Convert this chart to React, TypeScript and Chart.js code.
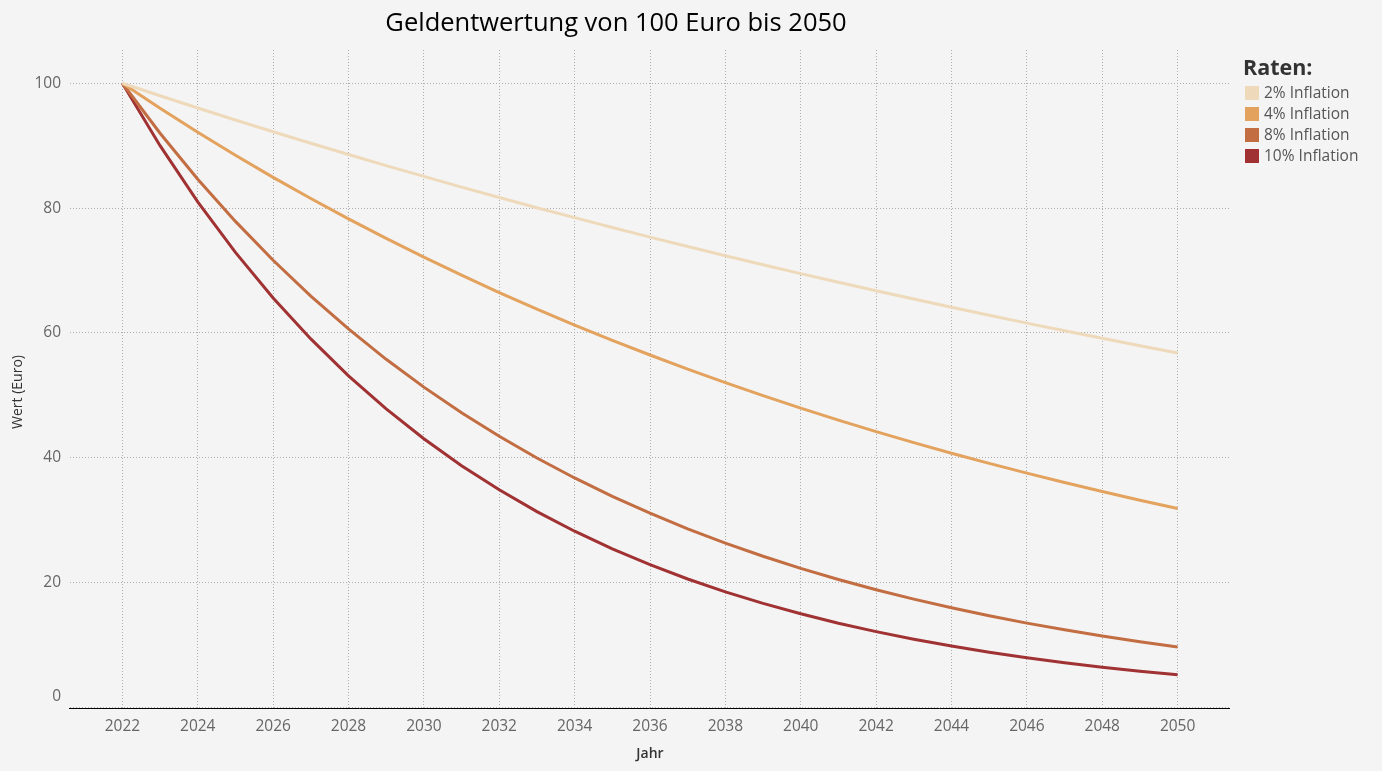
import React, { useEffect, useRef } from "react";
import { Chart, registerables } from "chart.js";

Chart.register(...registerables);

// Years on the x axis and the labelled ticks
const years = [
  2022, 2023, 2024, 2025, 2026, 2027, 2028, 2029, 2030, 2031,
  2032, 2033, 2034, 2035, 2036, 2037, 2038, 2039, 2040, 2041,
  2042, 2043, 2044, 2045, 2046, 2047, 2048, 2049, 2050,
];
const xTickYears = [2022, 2024, 2026, 2028, 2030, 2032, 2034, 2036, 2038, 2040, 2042, 2044, 2046, 2048, 2050];
const yTickValues = [0, 20, 40, 60, 80, 100];

// Remaining value of 100 Euro per year
const inflation2 = [
  100, 98, 96.04, 94.12, 92.24, 90.39, 88.58, 86.81, 85.08, 83.37,
  81.71, 80.07, 78.47, 76.9, 75.36, 73.86, 72.38, 70.93, 69.51, 68.12,
  66.76, 65.43, 64.12, 62.83, 61.58, 60.35, 59.14, 57.96, 56.8,
];
const inflation4 = [
  100, 96, 92.16, 88.47, 84.93, 81.54, 78.28, 75.14, 72.14, 69.25,
  66.48, 63.82, 61.27, 58.82, 56.47, 54.21, 52.04, 49.96, 47.96, 46.04,
  44.2, 42.43, 40.73, 39.1, 37.54, 36.04, 34.6, 33.21, 31.88,
];
const inflation8 = [
  100, 92, 84.64, 77.87, 71.64, 65.91, 60.64, 55.78, 51.32, 47.22,
  43.44, 39.96, 36.77, 33.83, 31.12, 28.63, 26.34, 24.23, 22.29, 20.51,
  18.87, 17.36, 15.97, 14.69, 13.52, 12.44, 11.44, 10.53, 9.68,
];
const inflation10 = [
  100, 90, 81, 72.9, 65.61, 59.05, 53.14, 47.83, 43.05, 38.74,
  34.87, 31.38, 28.24, 25.42, 22.88, 20.59, 18.53, 16.68, 15.01, 13.51,
  12.16, 10.94, 9.85, 8.86, 7.98, 7.18, 6.46, 5.81, 5.23,
];

const seriesLabels = ["2% Inflation", "4% Inflation", "8% Inflation", "10% Inflation"];
const seriesColors = ["#eedabb", "#e3a25d", "#c26d42", "#a13233"];
const seriesValues = [inflation2, inflation4, inflation8, inflation10];

const titleText = "Geldentwertung von 100 Euro bis 2050";
const legendTitle = "Raten:";
const yTitle = "Wert (Euro)";
const xTitle = "Jahr";

const FONT = "'Open Sans', 'Noto Sans', sans-serif";
const BG = "#f4f4f4";
const TICK_COLOR = "#666";
const TICK_SIZE = 15.5;

// Title, axis titles, legend and the solid base line
const overlayPlugin = {
  id: "overlay",
  afterDraw(chart: any) {
    const ctx = chart.ctx as CanvasRenderingContext2D;
    const area = chart.chartArea;
    ctx.save();

    // base line
    ctx.strokeStyle = "#000";
    ctx.lineWidth = 1;
    ctx.beginPath();
    ctx.moveTo(area.left - 1, Math.round(area.bottom) + 0.5);
    ctx.lineTo(area.right, Math.round(area.bottom) + 0.5);
    ctx.stroke();

    // "0" label sits slightly above the base line
    ctx.fillStyle = TICK_COLOR;
    ctx.font = `${TICK_SIZE}px ${FONT}`;
    ctx.textAlign = "right";
    ctx.textBaseline = "middle";
    ctx.fillText("0", 61, 697);

    // title
    ctx.fillStyle = "#000";
    ctx.font = `500 25.5px ${FONT}`;
    ctx.textAlign = "center";
    ctx.textBaseline = "middle";
    ctx.fillText(titleText, 616, 24);

    // axis titles
    ctx.fillStyle = "#333";
    ctx.font = `600 14px ${FONT}`;
    ctx.fillText(xTitle, (area.left + area.right) / 2, 754);
    ctx.font = `500 14px ${FONT}`;
    ctx.save();
    ctx.translate(18, 392);
    ctx.rotate(-Math.PI / 2);
    ctx.fillText(yTitle, 0, 0);
    ctx.restore();

    // legend
    ctx.textAlign = "left";
    ctx.fillStyle = "#333";
    ctx.font = `bold 21.5px ${FONT}`;
    ctx.fillText(legendTitle, 1243, 69);
    ctx.font = `15.5px ${FONT}`;
    seriesLabels.forEach((label, i) => {
      const cy = 93 + i * 21;
      ctx.fillStyle = seriesColors[i];
      ctx.fillRect(1245, cy - 7, 14, 14);
      ctx.fillStyle = "#555";
      ctx.fillText(label, 1264, cy + 1);
    });

    ctx.restore();
  },
};

export default function App() {
  const canvasRef = useRef<HTMLCanvasElement | null>(null);

  useEffect(() => {
    const canvas = canvasRef.current;
    if (!canvas) return;
    const chart = new Chart(canvas, {
      type: "line",
      data: {
        datasets: seriesValues.map((vals, i) => ({
          label: seriesLabels[i],
          data: years.map((y, k) => ({ x: y, y: vals[k] })),
          borderColor: seriesColors[i],
          backgroundColor: seriesColors[i],
          borderWidth: 3,
          pointRadius: 0,
          tension: 0,
          fill: false,
        })),
      },
      options: {
        animation: false,
        responsive: false,
        maintainAspectRatio: false,
        layout: { padding: { left: 0, top: 50, right: 152, bottom: 0 } },
        plugins: {
          legend: { display: false },
          title: { display: false },
          tooltip: { enabled: false },
        },
        scales: {
          x: {
            type: "linear",
            min: 2020.61,
            max: 2051.39,
            afterBuildTicks: (scale: any) => {
              scale.ticks = xTickYears.map((v) => ({ value: v }));
            },
            afterFit: (scale: any) => {
              scale.height = 63.5;
            },
            ticks: {
              color: TICK_COLOR,
              font: { family: FONT, size: TICK_SIZE },
              padding: 10,
              maxRotation: 0,
              autoSkip: false,
              callback: (v: any) => String(v),
            },
            grid: { color: "#adadad", lineWidth: 1, drawTicks: false },
            border: { display: false, dash: [1, 2] },
          },
          y: {
            type: "linear",
            min: 0,
            max: 105.33,
            afterBuildTicks: (scale: any) => {
              scale.ticks = yTickValues.map((v) => ({ value: v }));
            },
            afterFit: (scale: any) => {
              scale.width = 70;
            },
            ticks: {
              color: TICK_COLOR,
              font: { family: FONT, size: TICK_SIZE },
              padding: 9,
              callback: (v: any) => (v === 0 ? "" : String(v)),
            },
            grid: { color: "#adadad", lineWidth: 1, drawTicks: false },
            border: { display: false, dash: [1, 2] },
          },
        },
      },
      plugins: [overlayPlugin],
    });
    return () => chart.destroy();
  }, []);

  return (
    <div style={{ position: "fixed", left: 0, top: 0, width: 1382, height: 771, background: BG }}>
      <canvas ref={canvasRef} width={1382} height={771} style={{ display: "block" }} />
    </div>
  );
}
